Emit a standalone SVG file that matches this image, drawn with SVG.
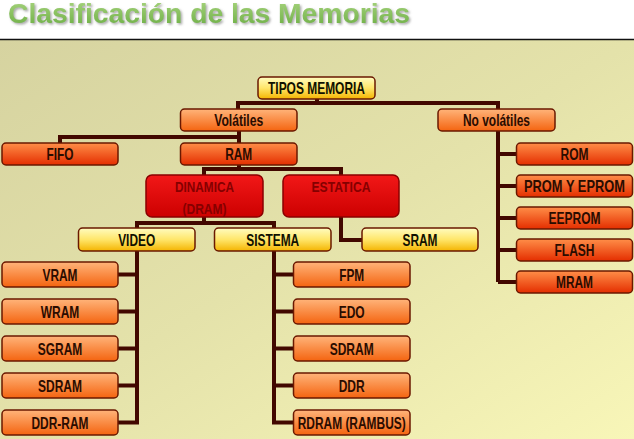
<svg xmlns="http://www.w3.org/2000/svg" width="634" height="439" viewBox="0 0 634 439">
<defs>
<linearGradient id="bg" x1="0" y1="0" x2="1" y2="1">
<stop offset="0" stop-color="#D6D3A0"/>
<stop offset="0.5" stop-color="#E4E2AA"/>
<stop offset="1" stop-color="#F8F6B8"/>
</linearGradient>
<linearGradient id="tg" x1="0" y1="0" x2="0" y2="1">
<stop offset="0" stop-color="#A8D47E"/>
<stop offset="1" stop-color="#6AAD42"/>
</linearGradient>
<linearGradient id="gy" x1="0" y1="0" x2="0" y2="1">
<stop offset="0" stop-color="#FFFCC0"/>
<stop offset="0.5" stop-color="#FFE66A"/>
<stop offset="1" stop-color="#F4B400"/>
</linearGradient>
<linearGradient id="go" x1="0" y1="0" x2="0" y2="1">
<stop offset="0" stop-color="#FFB47A"/>
<stop offset="1" stop-color="#F46410"/>
</linearGradient>
<linearGradient id="gr" x1="0" y1="0" x2="0" y2="1">
<stop offset="0" stop-color="#FF8E48"/>
<stop offset="1" stop-color="#E42E00"/>
</linearGradient>
<linearGradient id="gd" x1="0" y1="0" x2="0" y2="1">
<stop offset="0" stop-color="#F21818"/>
<stop offset="1" stop-color="#CC0000"/>
</linearGradient>
<filter id="sh" x="-5%" y="-30%" width="110%" height="160%">
<feDropShadow dx="1.5" dy="1.5" stdDeviation="0.8" flood-color="#808080" flood-opacity="0.7"/>
</filter>
</defs>
<style>
.bx{stroke:#6A1800;stroke-width:1.5}
.y{fill:url(#gy)}
.o{fill:url(#go)}
.r{fill:url(#gr)}
.d{fill:url(#gd);stroke:#8A0000}
text.l{font-family:"Liberation Sans",Arial,sans-serif;font-weight:bold;font-size:16.5px;text-anchor:middle;fill:#2A0C00}
text.k{fill:#111100}
text.dk{fill:#850000;font-size:15px}
.cn{fill:none;stroke:#420800;stroke-width:4;stroke-linejoin:miter}
</style>
<rect x="0" y="0" width="634" height="40" fill="#FFFFFF"/>
<rect x="0" y="40" width="634" height="399" fill="url(#bg)"/>
<line x1="0" y1="39.5" x2="634" y2="39.5" stroke="#111111" stroke-width="1.5"/>
<g id="title">
<text x="8" y="23" font-family="Liberation Sans,Arial,sans-serif" font-weight="bold" font-size="27" textLength="402" lengthAdjust="spacingAndGlyphs" fill="url(#tg)" filter="url(#sh)">Clasificación de las Memorias</text>
</g>
<g id="connectors">
<path class="cn" d="M317 99V103M238 111V103H498V282"/>
<path class="cn" d="M239 131V143M60 143V137H239"/>
<path class="cn" d="M239 165V169M204 176V169H341V176"/>
<path class="cn" d="M204 217V223M137 229V223H274V229"/>
<path class="cn" d="M341 217V240H362"/>
<path class="cn" d="M137 251V422.5H118M118 274.5H137M118 311.5H137M118 348.5H137M118 385.5H137"/>
<path class="cn" d="M274 251V422.5H293M274 274.5H293M274 311.5H293M274 348.5H293M274 385.5H293"/>
<path class="cn" d="M498 154H516M498 186H516M498 218H516M498 250H516M498 282H516"/>
</g>
<g id="n-tipos"><rect class="bx y" x="258" y="77" width="117" height="22" rx="4"/><text class="l k" x="316.5" y="94" textLength="97" lengthAdjust="spacingAndGlyphs">TIPOS MEMORIA</text></g>
<g id="n-volatiles"><rect class="bx o" x="180.5" y="109" width="116.5" height="22" rx="4"/><text class="l" x="238.7" y="126" textLength="49" lengthAdjust="spacingAndGlyphs">Volátiles</text></g>
<g id="n-novolatiles"><rect class="bx o" x="438" y="109" width="117" height="22" rx="4"/><text class="l" x="496.5" y="126" textLength="67" lengthAdjust="spacingAndGlyphs">No volátiles</text></g>
<g id="n-fifo"><rect class="bx r" x="2" y="143" width="116" height="22" rx="4"/><text class="l" x="60" y="160" textLength="27" lengthAdjust="spacingAndGlyphs">FIFO</text></g>
<g id="n-ram"><rect class="bx r" x="180.5" y="143" width="116.5" height="22" rx="4"/><text class="l" x="238.7" y="160" textLength="27" lengthAdjust="spacingAndGlyphs">RAM</text></g>
<g id="n-dinamica"><rect class="bx d" x="146" y="175" width="117" height="42" rx="6"/><text class="l dk" x="204.5" y="192" textLength="59" lengthAdjust="spacingAndGlyphs">DINAMICA</text><text class="l dk" x="204.5" y="214" textLength="44" lengthAdjust="spacingAndGlyphs">(DRAM)</text></g>
<g id="n-estatica"><rect class="bx d" x="283" y="175" width="116" height="42" rx="6"/><text class="l dk" x="341" y="192" textLength="59" lengthAdjust="spacingAndGlyphs">ESTATICA</text></g>
<g id="n-video"><rect class="bx y" x="78.5" y="228" width="116.5" height="23" rx="4"/><text class="l k" x="136.7" y="245.5" textLength="37" lengthAdjust="spacingAndGlyphs">VIDEO</text></g>
<g id="n-sistema"><rect class="bx y" x="214.5" y="228" width="116.5" height="23" rx="4"/><text class="l k" x="272.7" y="245.5" textLength="53" lengthAdjust="spacingAndGlyphs">SISTEMA</text></g>
<g id="n-sram"><rect class="bx y" x="362" y="228" width="116" height="23" rx="4"/><text class="l k" x="420" y="245.5" textLength="35" lengthAdjust="spacingAndGlyphs">SRAM</text></g>
<g id="n-vram"><rect class="bx o" x="2" y="262" width="116" height="25" rx="4"/><text class="l" x="60" y="280.5" textLength="35" lengthAdjust="spacingAndGlyphs">VRAM</text></g>
<g id="n-wram"><rect class="bx o" x="2" y="299" width="116" height="25" rx="4"/><text class="l" x="60" y="317.5" textLength="38.5" lengthAdjust="spacingAndGlyphs">WRAM</text></g>
<g id="n-sgram"><rect class="bx o" x="2" y="336" width="116" height="25" rx="4"/><text class="l" x="60" y="354.5" textLength="44.5" lengthAdjust="spacingAndGlyphs">SGRAM</text></g>
<g id="n-sdram1"><rect class="bx o" x="2" y="373" width="116" height="25" rx="4"/><text class="l" x="60" y="391.5" textLength="44" lengthAdjust="spacingAndGlyphs">SDRAM</text></g>
<g id="n-ddrram"><rect class="bx o" x="2" y="410" width="116" height="25" rx="4"/><text class="l" x="60" y="428.5" textLength="57" lengthAdjust="spacingAndGlyphs">DDR-RAM</text></g>
<g id="n-fpm"><rect class="bx o" x="293.5" y="262" width="116.5" height="25" rx="4"/><text class="l" x="351.7" y="280.5" textLength="25" lengthAdjust="spacingAndGlyphs">FPM</text></g>
<g id="n-edo"><rect class="bx o" x="293.5" y="299" width="116.5" height="25" rx="4"/><text class="l" x="351.7" y="317.5" textLength="26" lengthAdjust="spacingAndGlyphs">EDO</text></g>
<g id="n-sdram2"><rect class="bx o" x="293.5" y="336" width="116.5" height="25" rx="4"/><text class="l" x="351.7" y="354.5" textLength="44" lengthAdjust="spacingAndGlyphs">SDRAM</text></g>
<g id="n-ddr"><rect class="bx o" x="293.5" y="373" width="116.5" height="25" rx="4"/><text class="l" x="351.7" y="391.5" textLength="26" lengthAdjust="spacingAndGlyphs">DDR</text></g>
<g id="n-rdram"><rect class="bx o" x="293.5" y="410" width="116.5" height="25" rx="4"/><text class="l" x="351.7" y="428.5" textLength="108" lengthAdjust="spacingAndGlyphs">RDRAM (RAMBUS)</text></g>
<g id="n-rom"><rect class="bx r" x="516.5" y="143" width="116" height="22" rx="4"/><text class="l" x="574.5" y="160" textLength="28" lengthAdjust="spacingAndGlyphs">ROM</text></g>
<g id="n-prom"><rect class="bx r" x="516.5" y="175" width="116" height="22" rx="4"/><text class="l" transform="translate(574.5 192) scale(0.78 1)" x="0" y="0" font-size="15.5">PROM Y EPROM</text></g>
<g id="n-eeprom"><rect class="bx r" x="516.5" y="207" width="116" height="22" rx="4"/><text class="l" x="574.5" y="224" textLength="52" lengthAdjust="spacingAndGlyphs">EEPROM</text></g>
<g id="n-flash"><rect class="bx r" x="516.5" y="239" width="116" height="22" rx="4"/><text class="l" x="574.5" y="256" textLength="40" lengthAdjust="spacingAndGlyphs">FLASH</text></g>
<g id="n-mram"><rect class="bx r" x="516.5" y="271" width="116" height="22" rx="4"/><text class="l" x="574.5" y="288" textLength="37" lengthAdjust="spacingAndGlyphs">MRAM</text></g>
</svg>
